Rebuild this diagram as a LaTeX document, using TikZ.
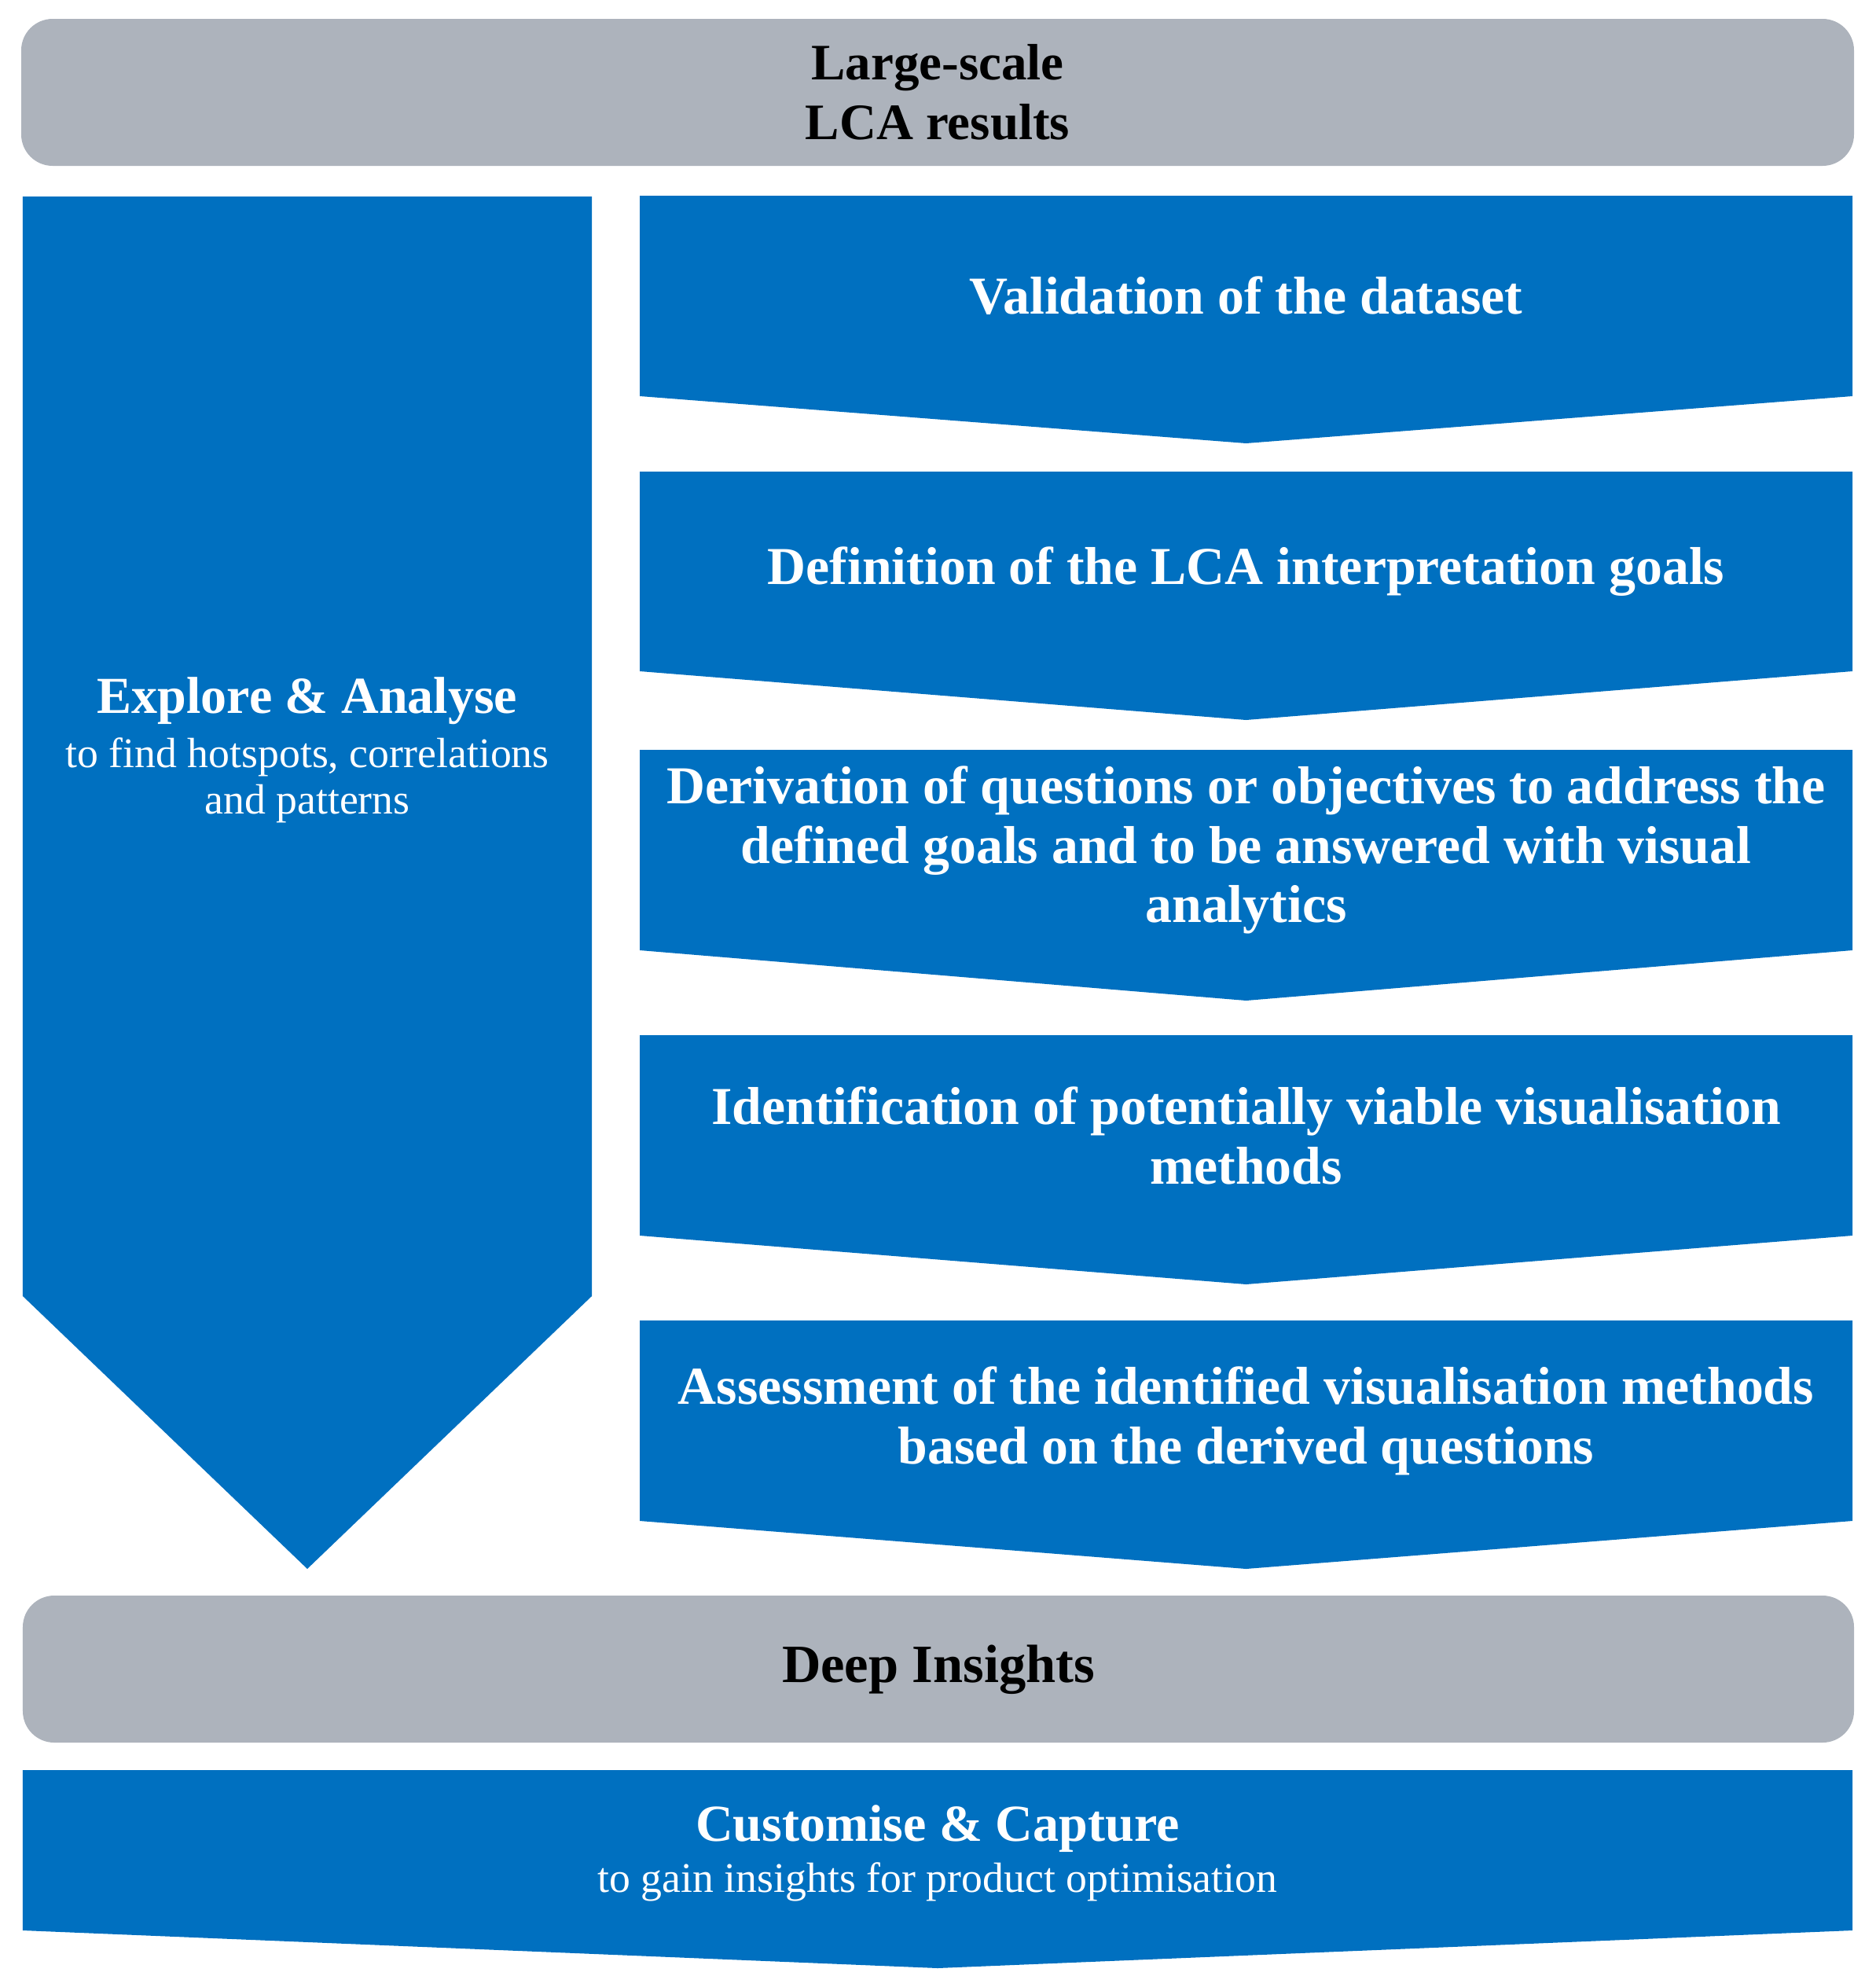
\documentclass[tikz,border=0pt]{standalone}
\usepackage{fontspec}
\setmainfont{Liberation Serif}
\usepackage{tikz}
\usetikzlibrary{positioning}

\definecolor{lcablue}{RGB}{0,112,192}
\definecolor{lcagrey}{RGB}{173,179,188}

\begin{document}
\begin{tikzpicture}[
    bar/.style={fill=lcagrey, rounded corners=4mm},
    stepbox/.style={fill=lcablue},
    bartext/.style={text=black, align=center, font=\fontsize{18.5}{21.6}\selectfont\bfseries},
    steptext/.style={text=white, align=center, font=\fontsize{19.3}{21.6}\selectfont\bfseries},
    headtext/.style={text=white, align=center, font=\fontsize{18.8}{23}\selectfont\bfseries},
    subtext/.style={text=white, align=center, font=\fontsize{15.3}{17}\selectfont, inner sep=0pt}
]
\useasboundingbox (0,0) rectangle (23.86,-25.28);

% Top bar
\fill[bar] (0.27,-0.24) rectangle (23.59,-2.11);
\node[bartext] (results) at (11.93,-1.175) {Large-scale\\LCA results};

% Left arrow
\fill[stepbox] (0.29,-2.50) -- (7.53,-2.50) -- (7.53,-16.49) -- (3.91,-19.96) -- (0.29,-16.49) -- cycle;
\node[headtext] (explore) at (3.91,-8.92) {Explore \& Analyse};
\node[subtext, below=0.3mm of explore] (exploresub) {to find hotspots, correlations\\and patterns};

% Steps
\foreach \ytop/\yedge/\ytip/\name/\txt in {
    2.49/5.04/5.64/validation/{Validation of the dataset},
    6.00/8.54/9.16/goals/{Definition of the LCA interpretation goals},
    9.54/12.09/12.73/questions/{Derivation of questions or objectives to address the\\defined goals and to be answered with visual\\analytics},
    13.17/15.72/16.34/methods/{Identification of potentially viable visualisation\\methods},
    16.80/19.35/19.96/assessment/{Assessment of the identified visualisation methods\\based on the derived questions}}
{
    \fill[stepbox] (8.14,-\ytop) -- (23.57,-\ytop) -- (23.57,-\yedge) -- (15.855,-\ytip) -- (8.14,-\yedge) -- cycle;
    \node[steptext] (\name) at (15.855,{-(\ytop+\yedge)/2}) {\txt};
}

% Deep insights
\fill[bar] (0.29,-20.30) rectangle (23.59,-22.17);
\node[bartext] (insights) at (11.94,-21.24) {\fontsize{19.5}{21.6}\selectfont Deep Insights};

% Bottom arrow
\fill[stepbox] (0.29,-22.52) -- (23.57,-22.52) -- (23.57,-24.56) -- (11.93,-25.04) -- (0.29,-24.56) -- cycle;
\node[headtext] (capture) at (11.93,-23.27) {Customise \& Capture};
\node[subtext, below=0mm of capture] (capturesub) {to gain insights for product optimisation};

\end{tikzpicture}
\end{document}
